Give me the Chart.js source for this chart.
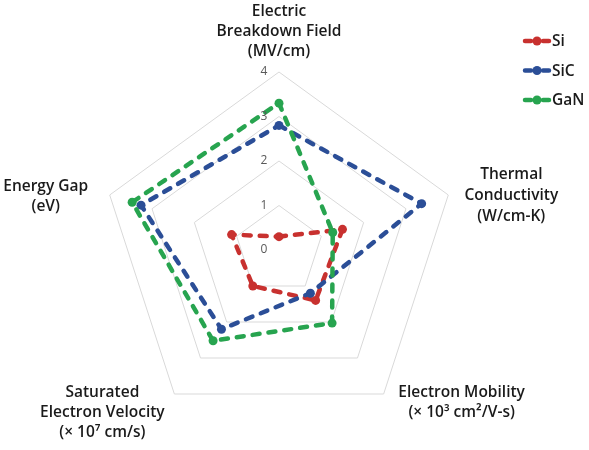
<!DOCTYPE html>
<html><head><meta charset="utf-8">
<script src="https://cdn.jsdelivr.net/npm/chart.js@4"></script>
<style>html,body{margin:0;padding:0;background:#fff}#wrap{width:589px;height:450px;position:relative}</style>
</head><body><div id="wrap"><canvas id="c"></canvas></div>
<script>
const categories = [
  ["Electric", "Breakdown Field", "(MV/cm)"],
  ["Thermal", "Conductivity", "(W/cm-K)"],
  ["Electron Mobility", "(× 10³ cm²/V-s)"],
  ["Saturated", "Electron Velocity", "(× 10⁷ cm/s)"],
  ["Energy Gap", "(eV)"]
];
const seriesNames = ["Si", "SiC", "GaN"];
const siValues  = [0.3, 1.5, 1.4, 1.0, 1.12];
const sicValues = [2.8, 3.37, 1.2, 2.2, 3.26];
const ganValues = [3.3, 1.27, 2.03, 2.52, 3.47];
const tickLabels = ["0", "1", "2", "3", "4"];

const colors = ["#c8312f", "#2b4e97", "#27a44f"];
const seriesValues = [siValues, sicValues, ganValues];

// label placement relative to the outer vertex of each axis
const labelPlace = [
  {dx: 0,   dy: -60, lh: 20},
  {dx: 63,  dy: -20, lh: 21},
  {dx: 78,  dy: -1,  lh: 20},
  {dx: -72, dy: -1,  lh: 20},
  {dx: -64, dy: -8,  lh: 20}
];

const textPlugin = {
  id: 'textPlugin',
  afterDraw(chart) {
    const ctx = chart.ctx;
    const s = chart.scales.r;
    ctx.save();
    // tick labels
    ctx.font = '12px "Open Sans"';
    ctx.fillStyle = '#595959';
    ctx.textAlign = 'center';
    ctx.textBaseline = 'middle';
    tickLabels.forEach(t => {
      const d = s.getDistanceFromCenterForValue(parseFloat(t));
      ctx.fillText(t, s.xCenter - 15, s.yCenter - d);
    });
    // point labels
    ctx.font = '600 15.5px "Open Sans"';
    ctx.fillStyle = '#1a1a1a';
    categories.forEach((lines, i) => {
      const p = s.getPointPosition(i, s.drawingArea);
      const pl = labelPlace[i];
      lines.forEach((ln, k) => {
        ctx.fillText(ln, p.x + pl.dx, p.y + pl.dy + k * pl.lh);
      });
    });
    // legend
    ctx.textAlign = 'left';
    ctx.font = '600 15.5px "Open Sans"';
    seriesNames.forEach((name, i) => {
      const y = 41 + i * 29.5;
      ctx.strokeStyle = colors[i];
      ctx.fillStyle = colors[i];
      ctx.lineWidth = 4.5;
      ctx.lineCap = 'round';
      ctx.beginPath();
      ctx.moveTo(525, y); ctx.lineTo(531, y);
      ctx.moveTo(543, y); ctx.lineTo(549, y);
      ctx.stroke();
      ctx.beginPath();
      ctx.arc(537, y, 4.5, 0, Math.PI * 2);
      ctx.fill();
      ctx.fillStyle = '#1a1a1a';
      ctx.fillText(name, 552, y + 1);
    });
    ctx.restore();
  }
};

new Chart(document.getElementById('c'), {
  type: 'radar',
  data: {
    labels: categories,
    datasets: seriesNames.map((n, i) => ({
      label: n,
      data: seriesValues[i],
      borderColor: colors[i],
      backgroundColor: colors[i],
      pointBackgroundColor: colors[i],
      pointBorderColor: colors[i],
      pointRadius: 4.5,
      pointBorderWidth: 0,
      borderWidth: 4.5,
      borderDash: [7, 9],
      borderCapStyle: 'round',
      fill: false,
      tension: 0,
      order: 2 - i
    }))
  },
  options: {
    responsive: true,
    maintainAspectRatio: false,
    animation: false,
    layout: {padding: {top: 72, bottom: 22, left: 101, right: 132}},
    plugins: {legend: {display: false}, tooltip: {enabled: false}},
    scales: {
      r: {
        min: 0, max: 4,
        ticks: {stepSize: 1, display: false},
        grid: {color: '#d9d9d9', lineWidth: 1},
        angleLines: {display: false},
        pointLabels: {display: false}
      }
    }
  },
  plugins: [textPlugin]
});
</script>
</body></html>
